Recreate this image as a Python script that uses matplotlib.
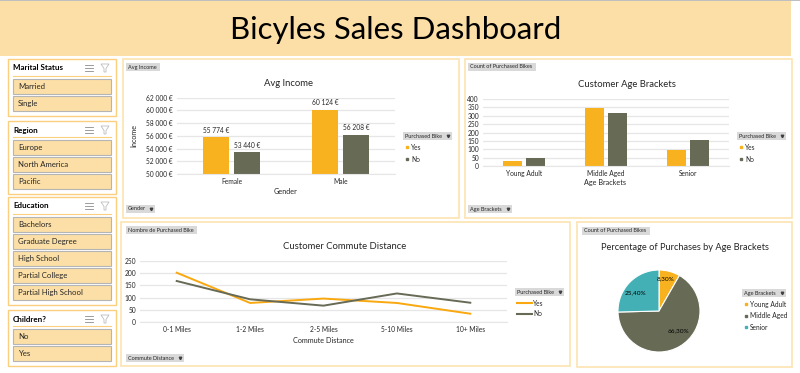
#!/usr/bin/env python3
import numpy as np
import matplotlib
matplotlib.use("Agg")
import matplotlib.pyplot as plt
from matplotlib.patches import Rectangle, Polygon

plt.rcParams["font.family"] = ["Lato", "DejaVu Sans"]

W, H = 800, 373
YELLOW = "#F9B21F"
OLIVE = "#676A55"
TEAL = "#43B0B5"
BAND = "#FCDFA6"
FRAME = "#FDE3B0"
SLICER_FRAME = "#FBCF7E"
TEXT = "#262626"
GRID = "#E6E6E6"

gender = ["Female", "Male"]
income_yes = [55774, 60124]
income_no = [53440, 56208]
income_labels_yes = ["55 774 €", "60 124 €"]
income_labels_no = ["53 440 €", "56 208 €"]
income_ticks = [50000, 52000, 54000, 56000, 58000, 60000, 62000]

age_brackets = ["Young Adult", "Middle Aged", "Senior"]
age_yes = [32, 348, 95]
age_no = [48, 316, 155]
age_ticks = [0, 50, 100, 150, 200, 250, 300, 350, 400]

commute = ["0-1 Miles", "1-2 Miles", "2-5 Miles", "5-10 Miles", "10+ Miles"]
commute_yes = [202, 78, 96, 78, 34]
commute_no = [168, 93, 67, 117, 79]
commute_ticks = [0, 50, 100, 150, 200, 250]

pie_values = [8.3, 66.3, 25.4]
pie_labels = ["8,30%", "66,30%", "25,40%"]

slicers = {
    "Marital Status": ["Married", "Single"],
    "Region": ["Europe", "North America", "Pacific"],
    "Education": ["Bachelors", "Graduate Degree", "High School",
                  "Partial College", "Partial High School"],
    "Children?": ["No", "Yes"],
}
slicer_tops = {"Marital Status": 59, "Region": 121, "Education": 197, "Children?": 310}
slicer_first = {"Marital Status": 79, "Region": 140, "Education": 217, "Children?": 329}

fig = plt.figure(figsize=(W / 100, H / 100), dpi=100, facecolor="white")
bg = fig.add_axes([0, 0, 1, 1], zorder=0)
fg = fig.add_axes([0, 0, 1, 1], zorder=3)
for a in (bg, fg):
    a.set_xlim(0, W)
    a.set_ylim(H, 0)
    a.axis("off")


def box(x0, y0, x1, y1, **kw):
    bg.add_patch(Rectangle((x0, y0), x1 - x0, y1 - y0, **kw))


def label(x, y, s, size=5.6, ha="left", **kw):
    kw.setdefault("color", TEXT)
    fg.text(x, y, s, fontsize=size, ha=ha, va="center", **kw)


def plot_axes(x0, y0, x1, y1):
    ax = fig.add_axes([x0 / W, 1 - y1 / H, (x1 - x0) / W, (y1 - y0) / H], zorder=2)
    ax.patch.set_alpha(0)
    for side in ["top", "right", "left"]:
        ax.spines[side].set_visible(False)
    ax.spines["bottom"].set_color(GRID)
    ax.tick_params(length=0, labelsize=4.8, labelcolor=TEXT, pad=3)
    ax.grid(axis="y", color=GRID, lw=0.9)
    ax.set_axisbelow(True)
    return ax


def tag(x0, y0, x1, s, arrow=False):
    box(x0, y0, x1, y0 + 8, fc="#D9D9D9", ec="none")
    label(x0 + 2, y0 + 4, s, size=4.0)
    if arrow:
        fg.plot([x1 - 4.5], [y0 + 4], marker="v", ms=1.8, color="#404040")


def legend(x, y, x1, title, names, colors, dy, line=False):
    box(x, y, x1, y + 8, fc="#D9D9D9", ec="none")
    label(x + 2, y + 4, title, size=4.0)
    fg.plot([x1 - 4.5], [y + 4], marker="v", ms=1.8, color="#404040")
    for i, (name, col) in enumerate(zip(names, colors)):
        yy = y + 15 + i * dy
        if line:
            fg.plot([x + 2, x + 17], [yy, yy], color=col, lw=1.5)
            label(x + 18, yy, name, size=4.8)
        else:
            fg.plot([x + 4], [yy], marker="s", ms=1.6, color=col)
            label(x + 8, yy, name, size=4.8)


def bars(ax, yes, no, width, gap):
    pos = np.arange(len(yes))
    ax.bar(pos - (width + gap) / 2, yes, width, color=YELLOW)
    ax.bar(pos + (width + gap) / 2, no, width, color=OLIVE)
    ax.set_xticks(pos)
    ax.set_xlim(-0.5, len(yes) - 0.5)
    return pos


# header band
box(0, 0, W, 1, fc="#BFBFBF", ec="none")
box(0, 1, 791, 56, fc=BAND, ec="none")
label(396, 29.5, "Bicyles Sales Dashboard", size=22.4, ha="center", color="black")

# panel frames
box(122.5, 58.5, 458.5, 218, fc="white", ec=FRAME, lw=1.2)
box(465, 59, 791.5, 218, fc="white", ec=FRAME, lw=1.2)
box(121, 221.5, 570, 366, fc="white", ec=FRAME, lw=1.2)
box(577, 222, 792, 367, fc="white", ec=FRAME, lw=1.2)

# slicers
for name, items in slicers.items():
    top = slicer_tops[name]
    first = slicer_first[name]
    bottom = first + 17 * len(items) + 3
    box(8, top, 116, bottom, fc="white", ec=SLICER_FRAME, lw=1)
    bg.plot([13, 111], [first - 3, first - 3], color=SLICER_FRAME, lw=0.8)
    label(13, top + 9, name, size=5.8, fontweight="bold", color="black")
    for j in range(3):
        bg.plot([85, 93], [top + 5.5 + j * 3] * 2, color="#8C8C8C", lw=0.6)
    bg.add_patch(Polygon([(101, top + 5), (109, top + 5), (106, top + 9.5),
                          (106, top + 13), (104, top + 13), (104, top + 9.5)],
                         fc="none", ec="#BDBDBD", lw=0.6))
    for k, item in enumerate(items):
        y = first + k * 17
        box(13, y, 110.5, y + 15, fc=BAND, ec="#B5B5B5", lw=0.8)
        label(18, y + 7.5, item, size=5.6)

# average income
ax = plot_axes(177, 97.7, 395, 174)
pos = bars(ax, income_yes, income_no, 0.23, 0.055)
ax.set_ylim(income_ticks[0], income_ticks[-1])
ax.set_yticks(income_ticks, [f"{t // 1000} 000 €" for t in income_ticks])
ax.set_xticklabels(gender)
for p, yes, no, ly, ln in zip(pos, income_yes, income_no, income_labels_yes, income_labels_no):
    ax.text(p - 0.1425, yes + 500, ly, ha="center", va="bottom", fontsize=4.8, color=TEXT)
    ax.text(p + 0.1425, no + 500, ln, ha="center", va="bottom", fontsize=4.8, color=TEXT)
label(289, 84, "Avg Income", size=6.8, ha="center")
label(286, 192, "Gender", size=5.2, ha="center")
label(134, 135, "Income", size=5.2, ha="center", rotation=90)
tag(126, 63, 160, "Avg Income")
tag(126, 205, 155, "Gender", arrow=True)
legend(403, 132, 452, "Purchased Bike", ["Yes", "No"], [YELLOW, OLIVE], 12)

# age brackets
ax = plot_axes(483, 99, 729, 166)
bars(ax, age_yes, age_no, 0.225, 0.06)
ax.set_ylim(age_ticks[0], age_ticks[-1])
ax.set_yticks(age_ticks)
ax.set_xticklabels(age_brackets)
label(627, 84.5, "Customer Age Brackets", size=6.8, ha="center")
label(605, 183, "Age Brackets", size=5.2, ha="center")
tag(468, 63, 536, "Count of Purchased Bikes")
tag(468, 205, 512, "Age Brackets", arrow=True)
legend(737, 132, 786, "Purchased Bike", ["Yes", "No"], [YELLOW, OLIVE], 12)

# commute distance
ax = plot_axes(140, 261, 507, 322)
pos = np.arange(len(commute))
ax.plot(pos, commute_yes, color="#F9A80F", lw=1.4)
ax.plot(pos, commute_no, color=OLIVE, lw=1.4)
ax.set_xlim(-0.5, len(commute) - 0.5)
ax.set_ylim(commute_ticks[0], commute_ticks[-1])
ax.set_yticks(commute_ticks)
ax.set_xticks(pos, commute)
label(345, 246.5, "Customer Commute Distance", size=6.8, ha="center")
label(323, 340.5, "Commute Distance", size=5.2, ha="center")
tag(126, 226, 197, "Nombre de Purchased Bike")
tag(126, 354, 184, "Commute Distance", arrow=True)
legend(515, 288, 564, "Purchased Bike", ["Yes", "No"], ["#F9A80F", OLIVE], 11, line=True)

# pie
ax = fig.add_axes([(659 - 45) / W, 1 - (311 + 45) / H, 90 / W, 90 / H], zorder=2)
ax.pie(pie_values, colors=[YELLOW, OLIVE, TEAL], startangle=90, counterclock=False,
       radius=41 / 45, wedgeprops={"edgecolor": "white", "linewidth": 0.8})
ax.set_xlim(-1, 1)
ax.set_ylim(-1, 1)
label(666, 278.5, pie_labels[0], size=4.6, ha="center", color="black")
label(678, 331, pie_labels[1], size=4.6, ha="center", color="black")
label(636, 293, pie_labels[2], size=4.6, ha="center", color="black")
label(685, 247.5, "Percentage of Purchases by Age Brackets", size=6.7, ha="center")
tag(582, 227, 650, "Count of Purchased Bikes")
legend(742, 289, 786, "Age Brackets", ["Young Adult", "Middle Aged", "Senior"],
       [YELLOW, OLIVE, TEAL], 11.5)

fig.savefig("out.png", dpi=100)
